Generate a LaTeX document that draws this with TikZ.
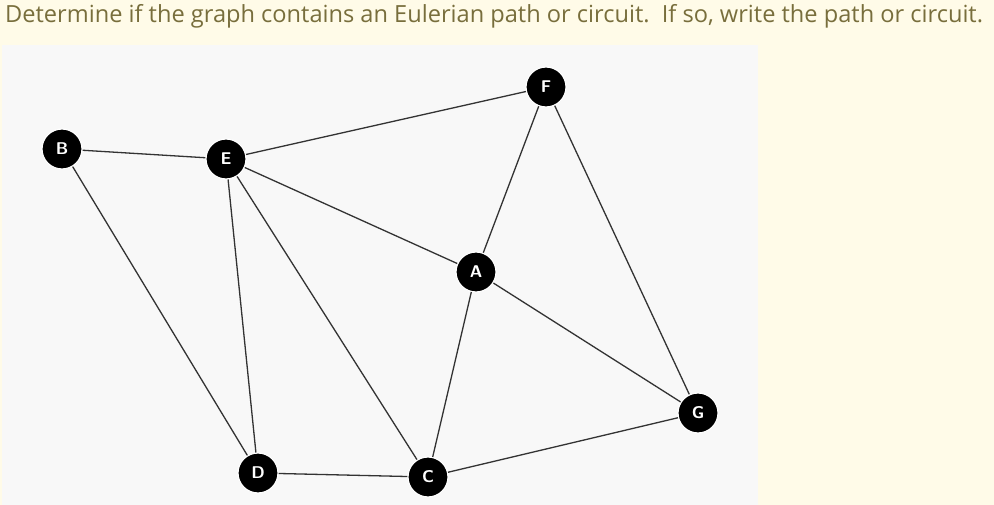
\documentclass[tikz,border=0pt]{standalone}
\usepackage{fontspec}
\setmainfont{Open Sans}
\definecolor{bgc}{RGB}{255,251,232}
\definecolor{panel}{RGB}{248,248,248}
\definecolor{ttl}{RGB}{120,110,60}
\begin{document}
\begin{tikzpicture}[x=1pt,y=-1pt,
 vtx/.style={circle,fill=black,draw=white,line width=1.2pt,minimum size=40pt,inner sep=0pt,text=white,font=\sffamily\bfseries\fontsize{17}{17}\selectfont},
 edge/.style={draw=black!80,line width=1.3pt}]
\fill[bgc] (0,0) rectangle (994,505);
\useasboundingbox (0,0) rectangle (994,505);
\fill[panel] (2,45) rectangle (758,505);
\node[anchor=west,text=ttl,font=\fontsize{23.6}{26}\selectfont,inner sep=0pt] (t) at (5,16) {Determine if the graph contains an Eulerian path or circuit.\ \ If so, write the path or circuit.};
\node[vtx] (B) at (62,149) {B};
\node[vtx] (E) at (226,159) {E};
\node[vtx] (F) at (546,87) {F};
\node[vtx] (A) at (476,272) {A};
\node[vtx] (G) at (698,413) {G};
\node[vtx] (D) at (258,473) {D};
\node[vtx] (C) at (428,477) {C};
\foreach \a/\b in {B/E,B/D,E/F,E/A,E/D,E/C,F/A,F/G,A/C,A/G,C/G,D/C}
  \draw[edge] (\a) -- (\b);
\end{tikzpicture}
\end{document}
